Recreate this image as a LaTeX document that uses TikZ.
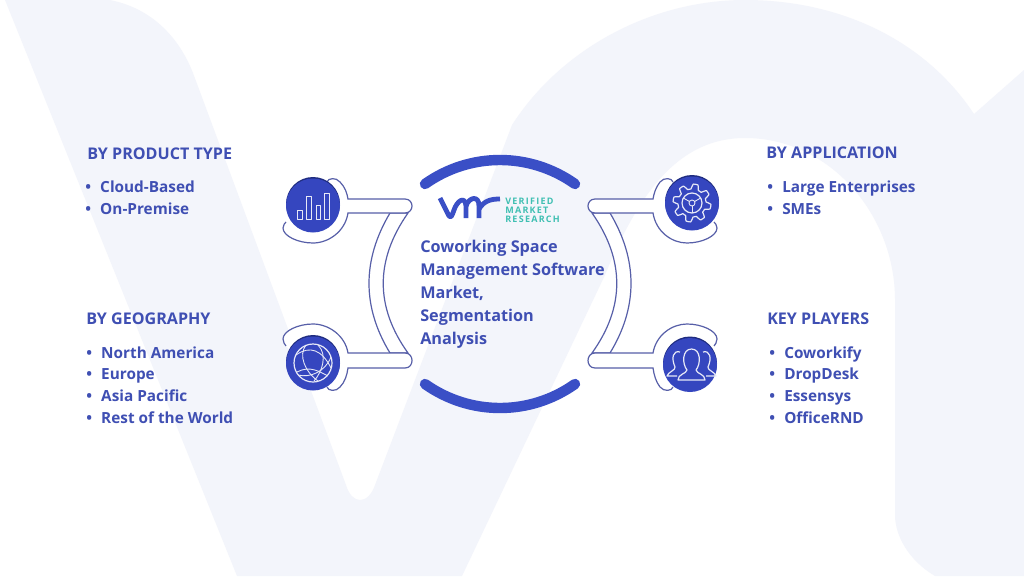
\documentclass[tikz,border=0pt]{standalone}
\usepackage{fontspec}
\setmainfont{Open Sans}
\newfontfamily\logofont[LetterSpace=14]{Open Sans}
\definecolor{paleback}{HTML}{F3F5FB}
\definecolor{inkblue}{HTML}{3F4FB3}
\definecolor{arcblue}{HTML}{3A4FC6}
\definecolor{ballblue}{HTML}{3546BF}
\definecolor{ballshade}{HTML}{1F2C80}
\definecolor{linkline}{HTML}{575FA8}
\definecolor{logoteal}{HTML}{3FBFB2}
\tikzset{
	headtext/.style={anchor=base west, inner sep=0pt, text=inkblue, font=\fontsize{11.45}{14}\selectfont\bfseries},
	itemtext/.style={anchor=base west, inner sep=0pt, text=inkblue, font=\fontsize{10.9}{14}\selectfont\bfseries},
	titletext/.style={anchor=base west, inner sep=0pt, text=inkblue, font=\fontsize{11.55}{14}\selectfont\bfseries},
	logotext/.style={anchor=base west, inner sep=0pt, text=logoteal, font=\fontsize{6.4}{7}\selectfont\logofont\bfseries},
	iconball/.style={circle, fill=ballblue, minimum size=13.5mm, inner sep=0pt},
	iconline/.style={draw=white!88!ballblue, line width=0.22mm, line join=round},
	linkshape/.style={draw=linkline, fill=white, line width=0.3mm},
	bigarc/.style={draw=arcblue, line width=2.6mm, line cap=round},
	logoline/.style={draw=arcblue, line width=1.2mm, line join=round}
}
\newcommand{\itemrow}[1]{\textbullet\hspace{2.3mm}#1}

\begin{document}
\begin{tikzpicture}[x=0.25mm, y=-0.25mm]
	%%%%% BACKGROUND %%%%%
	\useasboundingbox (0, 0) rectangle (1024, 576);
	\fill[white] (0, 0) rectangle (1024, 576);
	\fill[paleback] (5, 0) -- (110, 0) .. controls (150, 8) and (178, 35) .. (193, 73)
		-- (346, 485) .. controls (352, 505) and (368, 505) .. (375, 485)
		-- (512, 125) .. controls (560, 50) and (650, 0) .. (745, 0)
		.. controls (840, 0) and (925, 40) .. (974, 114) -- (1024, 70)
		-- (1024, 576) -- (935, 576) .. controls (908, 560) and (895, 535) .. (895, 515)
		-- (895, 300) .. controls (895, 215) and (830, 138) .. (745, 138)
		.. controls (680, 138) and (640, 190) .. (605, 275) -- (462, 576) -- (237, 576) -- cycle;

	%%%%% CENTRE %%%%%
	\draw[bigarc] (425, 184) .. controls (470, 152) and (530, 152) .. (575, 184);
	\draw[bigarc] (425, 384) .. controls (470, 416) and (530, 416) .. (575, 384);

	\draw[logoline] (440, 198) -- (449, 216) .. controls (451, 218) and (452, 216) .. (454, 210)
		.. controls (457, 201) and (465, 195) .. (466, 206) -- (466, 218);
	\draw[logoline] (466, 206) .. controls (469, 197) and (479, 195) .. (479, 206) -- (479, 218);
	\draw[logoline] (479, 209) .. controls (484, 201) and (490, 199) .. (500, 199);
	\node[logotext] (logoverified) at (505, 204) {VERIFIED};
	\node[logotext] (logomarket) at (505, 213) {MARKET};
	\node[logotext] (logoresearch) at (505, 222) {RESEARCH};

	\node[titletext] (titlea) at (420, 252) {Coworking Space};
	\node[titletext] (titleb) at (420, 275) {Management Software};
	\node[titletext] (titlec) at (420, 298) {Market,};
	\node[titletext] (titled) at (420, 321) {Segmentation};
	\node[titletext] (titlee) at (420, 344) {Analysis};

	%%%%% LEFT LINKS %%%%%
	\draw[linkshape] (390, 213) .. controls (362, 260) and (362, 307) .. (390, 353)
		-- (408, 353) .. controls (375, 307) and (375, 260) .. (408, 213) -- cycle;

	\draw[linkshape] (327, 182) .. controls (328, 178) and (336, 177) .. (340, 182)
		.. controls (345, 187) and (347, 193) .. (348, 199) -- (405, 199)
		.. controls (410, 199) and (412, 203) .. (412, 206) .. controls (412, 209) and (410, 213) .. (405, 213) -- (348, 213)
		.. controls (345, 232) and (328, 243) .. (313, 243) .. controls (298, 243) and (283, 236) .. (283, 228)
		.. controls (283, 225) and (285, 223) .. (286, 222);
	\fill[ballshade] (313, 204) circle (27);
	\node[iconball] (chartball) at (313, 205.5) {};
	\draw[iconline] (297, 210) rectangle (302, 219);
	\draw[iconline] (306, 196) rectangle (311, 219);
	\draw[iconline] (316, 205) rectangle (320, 219);
	\draw[iconline] (324, 193) rectangle (329, 219);

	\draw[linkshape] (327, 387) .. controls (328, 391) and (336, 392) .. (340, 387)
		.. controls (345, 382) and (347, 375) .. (348, 368) -- (405, 368)
		.. controls (410, 368) and (412, 364) .. (412, 360.5) .. controls (412, 357) and (410, 353) .. (405, 353) -- (348, 353)
		.. controls (345, 335) and (328, 324) .. (313, 324) .. controls (298, 324) and (283, 331) .. (283, 339)
		.. controls (283, 342) and (285, 345) .. (286, 346);
	\fill[ballshade] (313, 362) circle (27);
	\node[iconball] (globeball) at (313, 363.5) {};
	\draw[iconline, line width=0.3mm] (313, 363) circle (19);
	\draw[iconline] (296, 355) .. controls (310, 345) and (322, 350) .. (331, 368);
	\draw[iconline] (298, 375) .. controls (310, 378) and (325, 372) .. (331, 357);
	\draw[iconline] (297, 372) .. controls (310, 365) and (320, 372) .. (328, 376);
	\draw[iconline] (306, 345) .. controls (298, 355) and (305, 372) .. (318, 381);
	\draw[iconline] (318, 345) .. controls (328, 355) and (322, 372) .. (314, 381);

	%%%%% RIGHT LINKS %%%%%
	\draw[linkshape] (610, 213) .. controls (638, 260) and (638, 307) .. (610, 353)
		-- (592, 353) .. controls (625, 307) and (625, 260) .. (592, 213) -- cycle;

	\draw[linkshape] (673, 182) .. controls (672, 178) and (664, 177) .. (660, 182)
		.. controls (656, 187) and (654, 193) .. (653, 199) -- (595, 199)
		.. controls (590, 199) and (588, 203) .. (588, 206) .. controls (588, 209) and (590, 213) .. (595, 213) -- (653, 213)
		.. controls (656, 232) and (672, 243) .. (687, 243) .. controls (702, 243) and (717, 236) .. (717, 228)
		.. controls (717, 225) and (715, 223) .. (714, 222);
	\fill[ballshade] (692, 202) circle (27);
	\node[iconball] (gearball) at (692, 203.5) {};
	\draw[iconline, line width=0.3mm] plot[domain=0:360, samples=289] ({692+(16.5+2.5*max(-1,min(1,1.8*sin(8*\x))))*cos(\x)}, {203+(16.5+2.5*max(-1,min(1,1.8*sin(8*\x))))*sin(\x)}) -- cycle;
	\draw[iconline, line width=0.3mm] (692, 203) circle (10);
	\draw[iconline] (692, 203) circle (3);
	\draw[iconline] (689.4, 201.5) -- (683.3, 198);
	\draw[iconline] (694.6, 201.5) -- (700.7, 198);
	\draw[iconline] (692, 206) -- (692, 213);

	\draw[linkshape] (673, 387) .. controls (672, 391) and (664, 392) .. (660, 387)
		.. controls (656, 382) and (654, 375) .. (653, 368) -- (595, 368)
		.. controls (590, 368) and (588, 364) .. (588, 360.5) .. controls (588, 357) and (590, 353) .. (595, 353) -- (653, 353)
		.. controls (656, 335) and (672, 324) .. (687, 324) .. controls (702, 324) and (717, 331) .. (717, 339)
		.. controls (717, 342) and (715, 345) .. (714, 346);
	\fill[ballshade] (690, 363.5) circle (27);
	\node[iconball] (peopleball) at (690, 365) {};
	\draw[iconline, line width=0.3mm] (678, 380) .. controls (678, 374) and (686, 374) .. (687, 370)
		.. controls (682, 364) and (682, 349) .. (691.5, 349) .. controls (701, 349) and (701, 364) .. (696, 370)
		.. controls (697, 374) and (705, 374) .. (705, 380) -- cycle;
	\draw[iconline, line width=0.3mm] (680, 352) .. controls (673, 350) and (671, 358) .. (675, 367)
		.. controls (676, 370) and (668, 372) .. (667, 376) -- (677, 376);
	\draw[iconline, line width=0.3mm] (703, 352) .. controls (710, 350) and (712, 358) .. (708, 367)
		.. controls (707, 370) and (715, 372) .. (716, 376) -- (706, 376);

	%%%%% TEXTS %%%%%
	\node[headtext] (producthead) at (87, 159) {BY PRODUCT TYPE};
	\node[itemtext] (cloud) at (85, 192.5) {\itemrow{Cloud-Based}};
	\node[itemtext] (premise) at (85, 214) {\itemrow{On-Premise}};

	\node[headtext] (geohead) at (86, 324) {BY GEOGRAPHY};
	\node[itemtext] (america) at (86, 358) {\itemrow{North America}};
	\node[itemtext] (europe) at (86, 379.5) {\itemrow{Europe}};
	\node[itemtext] (asia) at (86, 401.5) {\itemrow{Asia Pacific}};
	\node[itemtext] (rest) at (86, 423) {\itemrow{Rest of the World}};

	\node[headtext] (apphead) at (766, 158) {BY APPLICATION};
	\node[itemtext] (large) at (767, 192.5) {\itemrow{Large Enterprises}};
	\node[itemtext] (smes) at (767, 214) {\itemrow{SMEs}};

	\node[headtext] (keyhead) at (767, 324) {KEY PLAYERS};
	\node[itemtext] (coworkify) at (769, 358) {\itemrow{Coworkify}};
	\node[itemtext] (dropdesk) at (769, 379.5) {\itemrow{DropDesk}};
	\node[itemtext] (essensys) at (769, 401.5) {\itemrow{Essensys}};
	\node[itemtext] (officernd) at (769, 423) {\itemrow{OfficeRND}};
\end{tikzpicture}
\end{document}
